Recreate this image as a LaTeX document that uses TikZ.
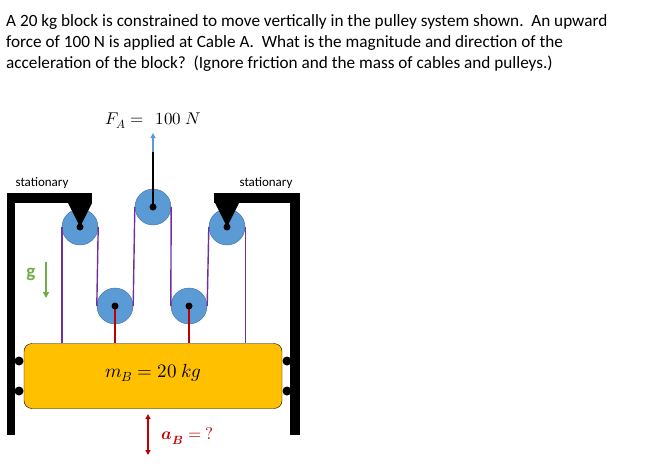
\documentclass[tikz,border=0pt]{standalone}
\usepackage{fontspec}
\setmainfont{Carlito}
\usepackage{unicode-math}
\setmathfont{Latin Modern Math}
\usetikzlibrary{arrows.meta}
\definecolor{pblue}{RGB}{91,155,213}
\definecolor{rope}{RGB}{112,48,160}
\definecolor{blockc}{RGB}{255,192,0}
\definecolor{redc}{RGB}{192,0,0}
\definecolor{greenc}{RGB}{112,173,71}
\tikzset{
 pulley/.style={circle,fill=pblue,draw=pblue!70!black,line width=0.4pt,minimum size=36pt,inner sep=0pt},
 axle/.style={circle,fill=black,inner sep=0pt,minimum size=7pt},
 ropel/.style={rope,line width=1.4pt},
 wall/.style={fill=black},
 txt/.style={inner sep=0pt,anchor=west,font=\fontsize{17.2}{20}\selectfont}
}
\begin{document}
\begin{tikzpicture}[x=1pt,y=-1pt]
\useasboundingbox (0,0) rectangle (658,468);
\node[txt] (t1) at (6,22) {A 20 kg block is constrained to move vertically in the pulley system shown.\ \ An upward};
\node[txt] (t2) at (6,43) {force of 100 N is applied at Cable A.\ \ What is the magnitude and direction of the};
\node[txt] (t3) at (6,64) {acceleration of the block?\ \ (Ignore friction and the mass of cables and pulleys.)};
% walls
\fill[wall] (7,193) rectangle (15,435);
\fill[wall] (7,193) rectangle (92,203);
\fill[wall] (290,193) rectangle (300,435);
\fill[wall] (214,193) rectangle (300,203);
\node[font=\fontsize{13}{14}\selectfont,anchor=south,inner sep=1pt] (s1) at (42,190) {stationary};
\node[font=\fontsize{13}{14}\selectfont,anchor=south,inner sep=1pt] (s2) at (266,190) {stationary};
% block
\node[draw=black,fill=blockc,rounded corners=8pt,minimum width=258pt,minimum height=65pt,inner sep=0pt] (blk) at (153,376) {};
\node (mb) at (153,373) {\fontsize{19}{19}\selectfont$m_B = 20\ kg$};
\foreach \y/\n in {361/a,391/b}{
 \node[axle,minimum size=9pt] (l\n) at (19,\y) {};
 \node[axle,minimum size=9pt] (r\n) at (287,\y) {};}
% pulleys
\node[pulley] (p1) at (80,227) {};
\node[pulley] (p2) at (153,207) {};
\node[pulley] (p3) at (227,227) {};
\node[pulley] (p4) at (115,306) {};
\node[pulley] (p5) at (189,306) {};
% ropes
\draw[ropel] (p1.west) -- (p1.west |- blk.north);
\draw[ropel] (p1.east) -- (p4.west);
\draw[ropel] (p4.east) -- (p2.west);
\draw[ropel] (p2.east) -- (p5.west);
\draw[ropel] (p5.east) -- (p3.west);
\draw[ropel] (p3.east) -- (p3.east |- blk.north);
\draw[redc,line width=1.5pt] (p4.center) -- (p4.center |- blk.north);
\draw[redc,line width=1.5pt] (p5.center) -- (p5.center |- blk.north);
% brackets
\fill (68,203) -- (92,203) -- (80,227) -- cycle;
\fill (215,203) -- (239,203) -- (227,227) -- cycle;
\coordinate (top) at (153,133);
\draw[line width=1.5pt] (p2.center) -- (153,150);
\draw[pblue,line width=1.5pt,-{Triangle[length=5pt,width=5pt]}] (153,152) -- (top);
\foreach \p in {p1,p2,p3,p4,p5} \node[axle] at (\p) {};
\node (fa) at (153,121) {\fontsize{17}{17}\selectfont$F_A =\ \ 100\ N$};
% g
\node[text=greenc,font=\bfseries\fontsize{19}{19}\selectfont] (g) at (31,274) {g};
\draw[greenc,line width=1.5pt,-{Triangle[length=6pt,width=6pt]}] (46,262) -- (46,298);
% a_B
\draw[redc,line width=1.2pt,{Triangle[length=5pt,width=5pt]}-{Triangle[length=5pt,width=5pt]}] (148,414) -- (148,455);
\node[anchor=west] (ab) at (158,436) {\fontsize{17}{17}\selectfont\color{redc}$\symbfit{a}_{\symbfit{B}} = ?$};
\end{tikzpicture}
\end{document}
